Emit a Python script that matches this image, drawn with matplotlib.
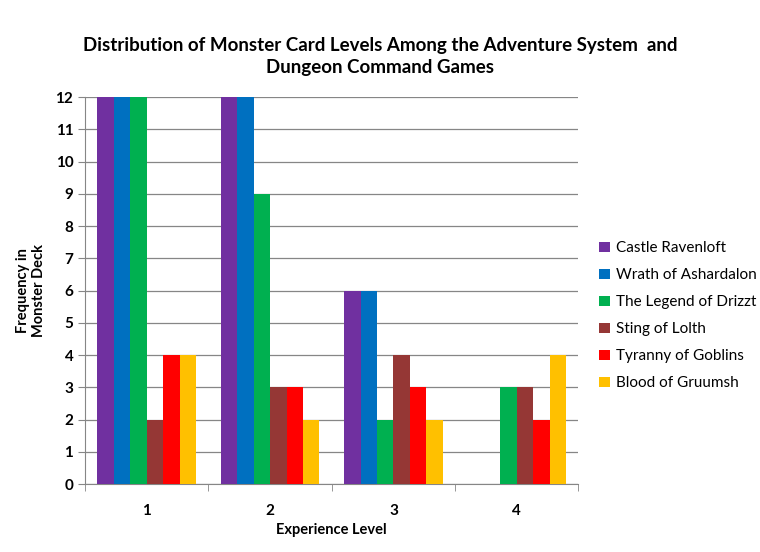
import numpy as np
from matplotlib import pyplot as plt

plt.rcParams['font.family'] = ['Lato', 'DejaVu Sans']

# Datos
levels = ['1', '2', '3', '4']
games = ['Castle Ravenloft', 'Wrath of Ashardalon', 'The Legend of Drizzt',
         'Sting of Lolth', 'Tyranny of Goblins', 'Blood of Gruumsh']
castle_ravenloft = [12, 12, 6, 0]
wrath_ashardalon = [12, 12, 6, 0]
legend_drizzt = [12, 9, 2, 3]
sting_lolth = [2, 3, 4, 3]
tyranny_goblins = [4, 3, 3, 2]
blood_gruumsh = [4, 2, 2, 4]
series = [castle_ravenloft, wrath_ashardalon, legend_drizzt,
          sting_lolth, tyranny_goblins, blood_gruumsh]
colors = ['#7030A0', '#0070C0', '#00B050', '#953735', '#FF0000', '#FFC000']

fig = plt.figure(figsize=(7.6, 5.52), dpi=100)
ax = fig.add_axes([0.112, 0.123, 0.649, 0.701])

x = np.arange(len(levels))
w = 0.8 / len(series)
for i, (vals, name, c) in enumerate(zip(series, games, colors)):
    ax.bar(x - 0.4 + w * (i + 0.5), vals, w, color=c, label=name, zorder=3)

ax.set_xlim(-0.5, len(levels) - 0.5)
ax.set_ylim(0, 12)
ax.set_yticks(range(0, 13))
ax.set_xticks(x)
ax.set_xticklabels(levels, fontweight='bold', fontsize=11)
ax.set_xticks(np.arange(-0.5, len(levels)), minor=True)
ax.tick_params(axis='x', which='major', length=0, pad=14)
ax.tick_params(axis='x', which='minor', length=5, color='#868686')
ax.tick_params(axis='y', length=5, color='#868686', labelsize=11)
for lab in ax.get_yticklabels():
    lab.set_fontweight('bold')
ax.grid(axis='y', color='#868686', linewidth=0.9, zorder=0)
for s in ['top', 'right']:
    ax.spines[s].set_visible(False)
ax.spines['left'].set_color('#868686')
ax.spines['bottom'].set_color('#868686')

ax.set_xlabel('Experience Level', fontweight='bold', fontsize=10.5, labelpad=4)
ax.set_ylabel('Frequency in\nMonster Deck', fontweight='bold', fontsize=10.5, labelpad=7)

fig.text(0.5, 0.898, 'Distribution of Monster Card Levels Among the Adventure System  and\nDungeon Command Games',
         ha='center', va='center', fontweight='bold', fontsize=13.5, linespacing=1.35)

fig.legend(loc='center left', bbox_to_anchor=(0.77, 0.428), frameon=False,
           fontsize=11, handlelength=0.7, handleheight=0.7, handletextpad=0.4,
           labelspacing=0.85)

plt.savefig('out.png', dpi=100)
